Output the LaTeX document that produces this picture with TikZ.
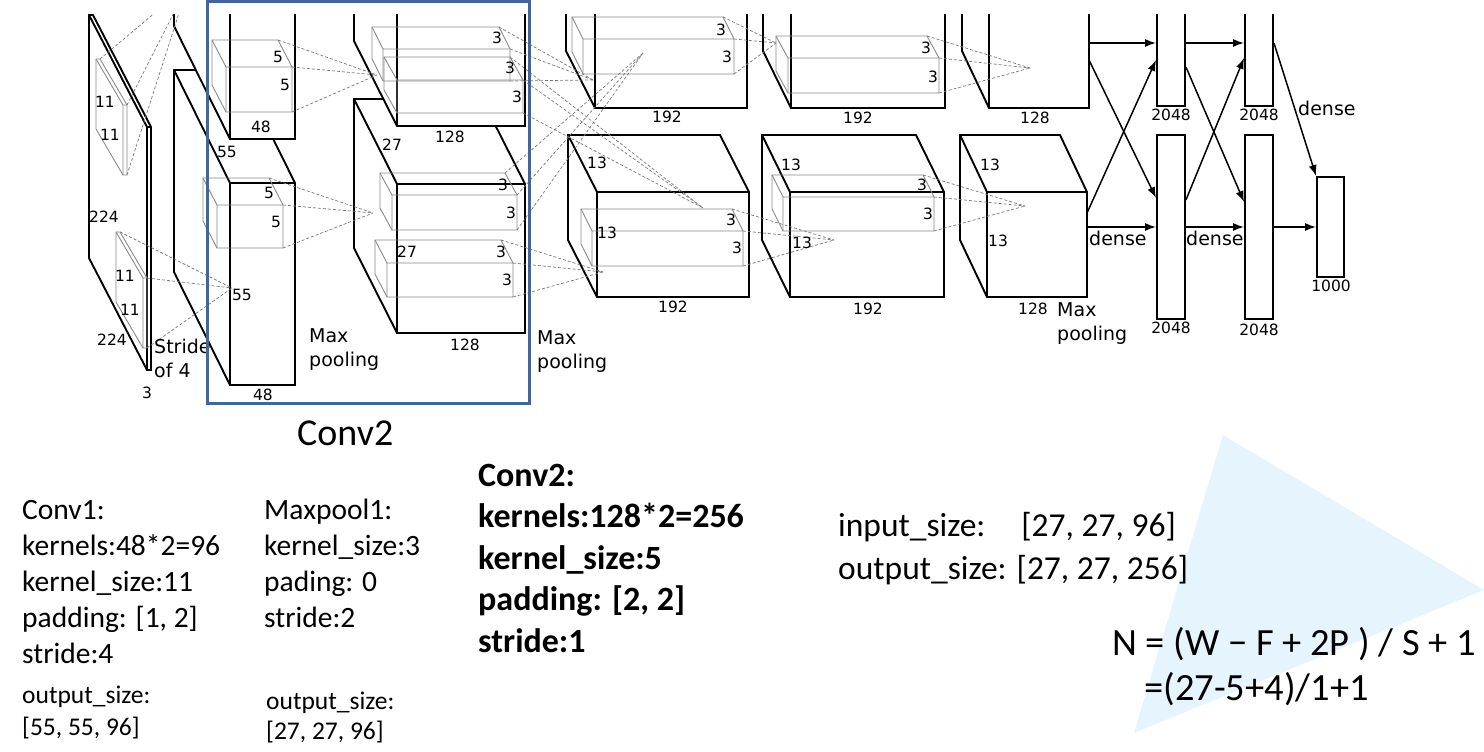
\documentclass[tikz,border=0pt]{standalone}
\usepackage{fontspec}
\setmainfont{Carlito}
\newfontfamily\netfont{DejaVu Sans}
\usetikzlibrary{arrows.meta, positioning}

\definecolor{kergray}{HTML}{8A8A8A}
\definecolor{dashgray}{HTML}{7A7A7A}
\definecolor{frameblue}{HTML}{41669C}
\definecolor{triblue}{HTML}{E6F5FD}

\tikzset{
  layer/.style={draw=black, line width=1.9pt, fill=white},
  kernel/.style={draw=kergray, line width=0.9pt},
  conn/.style={draw=dashgray, dash pattern=on 3pt off 2pt, line width=0.7pt},
  fcbox/.style={draw, line width=1.9pt, fill=white, inner sep=0pt, minimum width=28pt},
  fcarrow/.style={-{Latex[length=11pt,width=8pt]}, line width=1.5pt},
  num/.style={font=\netfont\fontsize{15.5}{17}\selectfont, inner sep=0pt},
  word/.style={font=\netfont\fontsize{19}{24}\selectfont, inner sep=0pt, anchor=west, align=left},
  txt/.style={font=\fontsize{29.5}{34}\selectfont, inner sep=0pt, anchor=base west},
  smalltxt/.style={txt, font=\fontsize{25.5}{30}\selectfont},
  boldtxt/.style={txt, font=\bfseries\fontsize{34}{40}\selectfont},
  midtxt/.style={txt, font=\fontsize{33.5}{40}\selectfont},
  bigtxt/.style={txt, font=\fontsize{38.5}{44}\selectfont}
}

% box: front top-left (x,y), width, height, back offset (dx,dy)
\newcommand\cuboid[7][layer]{%
  \path[#1] (#2-#6,#3-#7) -- ++(#4,0) -- (#2+#4,#3) -- ++(0,#5) -- ++(-#4,0) -- (#2-#6,#3+#5-#7) -- cycle;
  \draw[#1, fill=none] (#2-#6,#3-#7) -- (#2,#3) -- ++(#4,0) (#2,#3) -- ++(0,#5);
}
\newcommand\kernelbox[7]{%
  \cuboid[kernel]{#2}{#3}{#4}{#5}{#6}{#7}
  \coordinate (#1-b) at (#2+#4-#6,#3-#7);
  \coordinate (#1-t) at (#2+#4,#3);
  \coordinate (#1-r) at (#2+#4,#3+#5);
}

\begin{document}
\begin{tikzpicture}[x=1pt, y=-1pt]
    \useasboundingbox (0,0) rectangle (1484,752);
    \fill[triblue] (1223,435) -- (1484,590) -- (1134,733) -- cycle;

    \begin{scope}
    \clip (0,15) rectangle (1484,420);
    % Layers
    \cuboid{147}{127}{4}{243}{58}{112}
    \cuboid{230}{183}{65}{202}{56}{113}
    \cuboid{230}{-63}{65}{202}{56}{113}
    \cuboid{397}{184}{128}{149}{43}{85}
    \cuboid{397}{-23}{128}{149}{43}{85}
    \cuboid{597}{192}{152}{105}{29}{57}
    \cuboid{595}{3}{152}{105}{29}{57}
    \cuboid{790}{192}{154}{105}{28}{57}
    \cuboid{791}{3}{154}{105}{28}{57}
    \cuboid{987}{192}{100}{105}{27}{57}
    \cuboid{989}{3}{100}{105}{27}{57}

    % Kernels
    \kernelbox{in1}{123}{105}{4}{70}{27}{46}
    \kernelbox{in2}{143}{278}{4}{70}{27}{46}
    \kernelbox{k1u}{226}{67}{66}{45}{14}{27}
    \kernelbox{k1l}{217}{205}{66}{43}{14}{27}
    \kernelbox{k2a}{383}{49}{127}{32}{11}{22}
    \kernelbox{k2b}{397}{80}{126}{33}{13}{23}
    \kernelbox{k2c}{392}{195}{125}{35}{12}{22}
    \kernelbox{k2d}{387}{263}{126}{34}{12}{23}
    \kernelbox{k3u}{583}{39}{151}{35}{11}{22}
    \kernelbox{k3l}{592}{231}{151}{35}{11}{22}
    \kernelbox{k4u}{788}{58}{151}{35}{12}{22}
    \kernelbox{k4l}{783}{197}{151}{34}{11}{22}

    % Targets of the kernels
    \coordinate (p1u) at (188,-15);
    \coordinate (p1l) at (232,288);
    \coordinate (p2u) at (377,75);
    \coordinate (p2l) at (373,213);
    \coordinate (p3a) at (593,80);
    \coordinate (p3b) at (703,208);
    \coordinate (p3c) at (643,53);
    \coordinate (p3d) at (603,272);
    \coordinate (p4u) at (776,43);
    \coordinate (p4l) at (834,240);
    \coordinate (p5u) at (1030,68);
    \coordinate (p5l) at (1025,206);
    \foreach \k/\p in {in1/p1u, in2/p1l, k1u/p2u, k1l/p2l, k2a/p3a, k2b/p3b,
                       k2c/p3c, k2d/p3d, k3u/p4u, k3l/p4l, k4u/p5u, k4l/p5l}
      \foreach \c in {b,t,r}
        \draw[conn] (\k-\c) -- (\p);

    % Dense layers
    \node[fcbox, minimum height=126pt] (fc1u) at (1171,43) {};
    \node[fcbox, minimum height=126pt] (fc2u) at (1259,43) {};
    \node[fcbox, minimum height=184pt] (fc1l) at (1171,227) {};
    \node[fcbox, minimum height=184pt] (fc2l) at (1259,227) {};
    \node[fcbox, minimum width=27pt, minimum height=100pt] (out) at (1330.5,227) {};
    \coordinate (c5a) at (1089,43);
    \coordinate (c5b) at (1089,60);
    \coordinate (c5c) at (1087,213);
    \coordinate (c5d) at (1087,227);

    % Paths
    \draw[fcarrow] (c5a) -- (fc1u.west);
    \draw[fcarrow] (c5b) -- ([yshift=29pt]fc1l.west);
    \draw[fcarrow] (c5c) -- ([yshift=-17pt]fc1u.west);
    \draw[fcarrow] (c5d) -- (fc1l.west);
    \draw[fcarrow] (fc1u.east) -- (fc2u.west);
    \draw[fcarrow] ([yshift=-24pt]fc1u.east) -- ([yshift=25pt]fc2l.west);
    \draw[fcarrow] ([yshift=27pt]fc1l.east) -- ([yshift=-15pt]fc2u.west);
    \draw[fcarrow] (fc1l.east) -- (fc2l.west);
    \draw[fcarrow] (fc2u.east) -- (out.north west);
    \draw[fcarrow] (fc2l.east) -- (out.west);
    \end{scope}

    % Labels
    \foreach \x/\y/\t [count=\i] in {105/102/11, 110/135/11, 125/276/11, 130/310/11,
        104/217/224, 112/340/224, 147/393/3,
        278/57/5, 285/85/5, 261/127/48, 227/152/55, 269/193/5, 276/222/5, 242/295/55, 263/395/48,
        497/38/3, 510/68/3, 517/97/3, 450/137/128, 392/145/27, 503/185/3, 511/213/3,
        407/252/27, 501/252/3, 507/280/3, 465/345/128,
        721/30/3, 727/57/3, 667/117/192, 597/163/13, 607/233/13, 731/220/3, 737/248/3, 673/307/192,
        926/48/3, 933/77/3, 858/118/192, 791/165/13, 922/185/3, 928/214/3, 802/243/13, 868/309/192,
        1035/118/128, 990/165/13, 998/241/13, 1033/309/128,
        1171/115/2048, 1259/115/2048, 1171/328/2048, 1259/330/2048, 1331/286/1000}
      \node[num] (lab\i) at (\x,\y) {\t};
    \node[word] (stride) at (154,358) {Stride\\of 4};
    \node[word] (pool1) at (309,350) {Max\\pooling};
    \node[word] (pool2) at (537,352) {Max\\pooling};
    \node[word] (pool3) at (1057,324) {Max\\pooling};
    \node[word] (dense1) at (1089,238) {dense};
    \node[word] (dense2) at (1186,238) {dense};
    \node[word] (dense3) at (1298,108) {dense};

    % Conv2 frame
    \draw[frameblue, line width=3pt] (207,2) rectangle (529,403);
    \node[txt, font=\fontsize{38}{42}\selectfont] (conv2) at (297,445) {Conv2};

    % Notes
    \foreach \t [count=\i] in {Conv1:, kernels:48*2=96, kernel\_size:11, {padding: [1, 2]}, stride:4}
      \node[txt] (cva\i) at (22,483+36*\i) {\t};
    \node[smalltxt] (cva6) at (22,703) {output\_size:};
    \node[smalltxt] (cva7) at (22,735) {[55, 55, 96]};
    \foreach \t [count=\i] in {Maxpool1:, kernel\_size:3, {pading: 0}, stride:2}
      \node[txt] (mpa\i) at (264,483+36*\i) {\t};
    \node[smalltxt] (mpa5) at (266,709) {output\_size:};
    \node[smalltxt] (mpa6) at (266,739) {[27, 27, 96]};
    \foreach \t [count=\i] in {Conv2:, kernels:128*2=256, kernel\_size:5, {padding: [2, 2]}, stride:1}
      \node[boldtxt] (cvb\i) at (478,444.5+41.5*\i) {\t};
    \node[midtxt] (insz) at (838,536) {input\_size:\hspace{36pt}[27, 27, 96]};
    \node[midtxt] (outsz) at (838,579) {output\_size: [27, 27, 256]};
    \node[bigtxt] (formula) at (1112,655) {N = (W − F + 2P ) / S + 1};
    \node[bigtxt] (calc) at (1144,700) {=(27-5+4)/1+1};
\end{tikzpicture}
\end{document}
